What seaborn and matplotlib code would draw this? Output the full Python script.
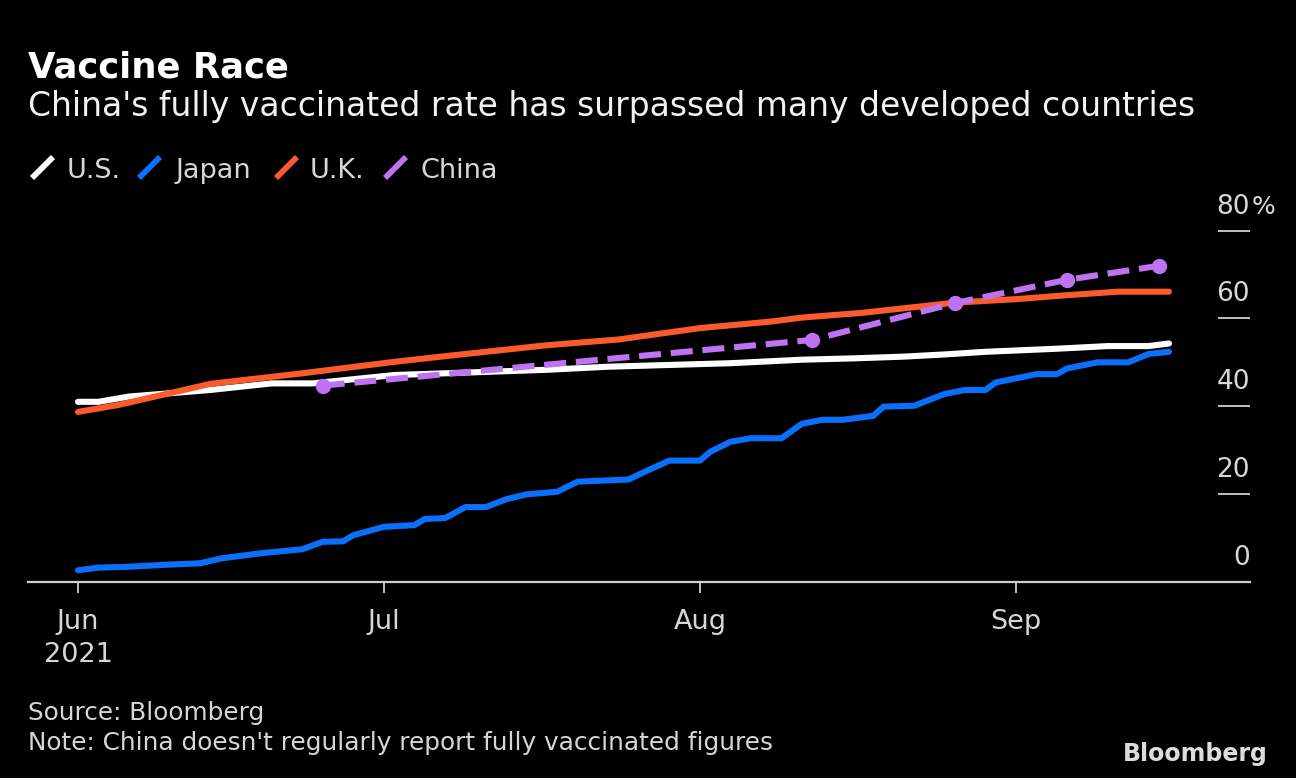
import matplotlib
matplotlib.use("Agg")
import matplotlib.pyplot as plt
import matplotlib.transforms as mtransforms
from matplotlib.lines import Line2D
import seaborn as sns
import pandas as pd

sns.set_theme(style="dark")
plt.rcParams['font.family'] = ['DejaVu Sans']

# ---------------- data ----------------
us_dates = ["2021-06-01", "2021-06-03", "2021-06-06", "2021-06-14", "2021-06-20", "2021-06-24",
            "2021-07-02", "2021-07-17", "2021-07-23", "2021-07-29", "2021-08-04", "2021-08-11",
            "2021-08-16", "2021-08-21", "2021-08-25", "2021-08-29", "2021-09-05", "2021-09-10",
            "2021-09-14", "2021-09-16"]
us_values = [41.0, 41.0, 42.2, 43.7, 45.2, 45.2,
             47.1, 48.3, 49.0, 49.4, 49.8, 50.6,
             50.9, 51.3, 51.8, 52.4, 53.1, 53.7,
             53.7, 54.3]

uk_dates = ["2021-06-01", "2021-06-05", "2021-06-14", "2021-06-23", "2021-07-02", "2021-07-07",
            "2021-07-17", "2021-07-24", "2021-08-01", "2021-08-08", "2021-08-11", "2021-08-17",
            "2021-08-26", "2021-09-01", "2021-09-06", "2021-09-11", "2021-09-16"]
uk_values = [38.7, 40.3, 45.1, 47.5, 50.1, 51.4,
             53.9, 55.2, 57.8, 59.3, 60.2, 61.3,
             63.6, 64.4, 65.3, 66.1, 66.1]

japan_dates = ["2021-06-01", "2021-06-03", "2021-06-06", "2021-06-09", "2021-06-13", "2021-06-15",
               "2021-06-19", "2021-06-23", "2021-06-25", "2021-06-27", "2021-06-28", "2021-07-01",
               "2021-07-04", "2021-07-05", "2021-07-07", "2021-07-09", "2021-07-11", "2021-07-13",
               "2021-07-15", "2021-07-18", "2021-07-20", "2021-07-25", "2021-07-27", "2021-07-29",
               "2021-08-01", "2021-08-02", "2021-08-04", "2021-08-06", "2021-08-09", "2021-08-11",
               "2021-08-13", "2021-08-15", "2021-08-18", "2021-08-19", "2021-08-22", "2021-08-25",
               "2021-08-27", "2021-08-29", "2021-08-30", "2021-09-03", "2021-09-05", "2021-09-06",
               "2021-09-09", "2021-09-12", "2021-09-14", "2021-09-16"]
japan_values = [2.6, 3.2, 3.4, 3.8, 4.2, 5.3,
                6.5, 7.4, 9.1, 9.2, 10.6, 12.5,
                12.9, 14.3, 14.5, 17.0, 17.0, 18.8,
                19.9, 20.5, 22.8, 23.3, 25.5, 27.6,
                27.6, 29.6, 31.9, 32.7, 32.7, 36.0,
                36.9, 36.9, 37.8, 39.9, 40.1, 42.8,
                43.7, 43.7, 45.4, 47.3, 47.3, 48.6,
                50.0, 50.0, 51.9, 52.4]

china_dates = ["2021-06-25", "2021-08-12", "2021-08-26", "2021-09-06", "2021-09-15"]
china_values = [44.7, 55.1, 63.5, 68.8, 72.0]

legend_labels = ["U.S.", "Japan", "U.K.", "China"]
month_ticks = ["2021-06-01", "2021-07-01", "2021-08-01", "2021-09-01"]
month_labels = ["Jun\n2021", "Jul", "Aug", "Sep"]
y_ticks = [0, 20, 40, 60, 80]
y_labels = ["0", "20", "40", "60", "80"]

# ---------------- style ----------------
BG = "#000000"
C_US = "#ffffff"
C_JP = "#0a6ffa"
C_UK = "#fb5a2c"
C_CN = "#bf73f2"
TXT = "#d6d6d6"
AXC = "#cfcfcf"

W, H = 1296, 778
fig = plt.figure(figsize=(W / 100, H / 100), dpi=100, facecolor=BG)

x_left, x_right = 28, 1250
y_zero, px_per_unit = 581.7, 4.3875
ymax = 85
ax = fig.add_axes([x_left / W, 1 - y_zero / H, (x_right - x_left) / W, ymax * px_per_unit / H])
ax.set_facecolor(BG)

def frame(dates, vals):
    return pd.DataFrame({"date": pd.to_datetime(dates), "v": vals})

lw = 4.4
sns.lineplot(data=frame(us_dates, us_values), x="date", y="v", ax=ax, color=C_US,
             linewidth=lw, solid_capstyle="round", solid_joinstyle="round")
sns.lineplot(data=frame(uk_dates, uk_values), x="date", y="v", ax=ax, color=C_UK,
             linewidth=lw, solid_capstyle="round", solid_joinstyle="round")
sns.lineplot(data=frame(japan_dates, japan_values), x="date", y="v", ax=ax, color=C_JP,
             linewidth=lw, solid_capstyle="round", solid_joinstyle="round")
sns.lineplot(data=frame(china_dates, china_values), x="date", y="v", ax=ax, color=C_CN,
             linewidth=lw, linestyle=(0, (3.6, 1.6)), dash_capstyle="butt",
             marker="o", markersize=11, markeredgewidth=0)

start = pd.Timestamp("2021-06-01")
ppd = 10.196
ax.set_xlim(start - pd.Timedelta(days=(78 - x_left) / ppd),
            start + pd.Timedelta(days=(x_right - 78) / ppd))
ax.set_ylim(0, ymax)

ax.grid(False)
for s in ["top", "left", "right"]:
    ax.spines[s].set_visible(False)
ax.spines["bottom"].set_color(AXC)
ax.spines["bottom"].set_linewidth(1.6)
ax.set_xlabel("")
ax.set_ylabel("")

ax.set_xticks(pd.to_datetime(month_ticks))
ax.set_xticklabels(month_labels, color=TXT, fontsize=19.5, linespacing=1.35)
ax.tick_params(axis="x", direction="out", length=8, width=1.3, color=AXC, pad=12, bottom=True)

ax.yaxis.tick_right()
ax.set_yticks(y_ticks)
ax.set_yticklabels([])
ax.tick_params(axis="y", direction="in", length=23, width=1.3, color=AXC, right=True, left=False)

trans = mtransforms.blended_transform_factory(ax.transAxes, ax.transData)
lab_off = mtransforms.ScaledTranslation(0, 0.17, fig.dpi_scale_trans)
for v, lab in zip(y_ticks, y_labels):
    ax.text(1.0, v, lab, transform=trans + lab_off, ha="right", va="baseline",
            color=TXT, fontsize=19)
ax.text(1.0, y_ticks[-1], "%",
        transform=trans + lab_off + mtransforms.ScaledTranslation(0.02, 0, fig.dpi_scale_trans),
        ha="left", va="baseline", color=TXT, fontsize=18)

def fx(px):
    return px / W

def fy(py):
    return 1 - py / H

fig.text(fx(28), fy(78), "Vaccine Race", color="white", fontsize=25.5, fontweight="bold",
         ha="left", va="baseline")
fig.text(fx(28), fy(116), "China's fully vaccinated rate has surpassed many developed countries",
         color="#f2f2f2", fontsize=23.7, ha="left", va="baseline")

leg_colors = [C_US, C_JP, C_UK, C_CN]
stroke_x = [30, 137, 274, 383]
text_x = [67, 175, 310, 420]
for c, sx, tx, lab in zip(leg_colors, stroke_x, text_x, legend_labels):
    fig.add_artist(Line2D([fx(sx + 2), fx(sx + 23)], [fy(178), fy(157)], color=c,
                          linewidth=4.2, solid_capstyle="butt", transform=fig.transFigure))
    fig.text(fx(tx), fy(178), lab, color=TXT, fontsize=19.5, ha="left", va="baseline")

fig.text(fx(28), fy(720), "Source: Bloomberg", color=TXT, fontsize=17.8, ha="left", va="baseline")
fig.text(fx(28), fy(750), "Note: China doesn't regularly report fully vaccinated figures",
         color=TXT, fontsize=17.8, ha="left", va="baseline")
fig.text(fx(1268), fy(761), "Bloomberg", color="#dcdcdc", fontsize=17, fontweight="bold",
         ha="right", va="baseline")

fig.savefig("out.png", dpi=100, facecolor=BG)
